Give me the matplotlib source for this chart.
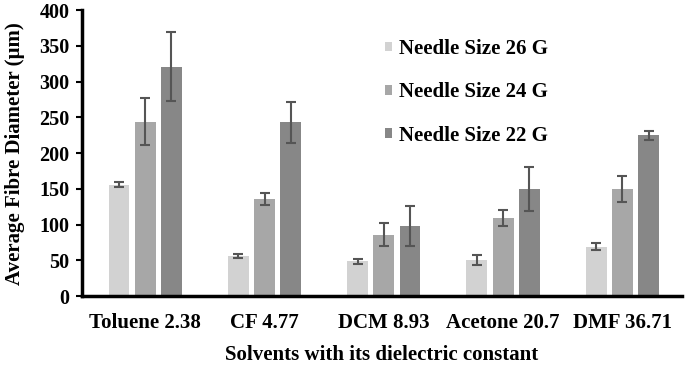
import matplotlib
matplotlib.use("Agg")
import matplotlib.pyplot as plt
import numpy as np

categories = ["Toluene 2.38", "CF 4.77", "DCM 8.93", "Acetone 20.7", "DMF 36.71"]
series = ["Needle Size 26 G", "Needle Size 24 G", "Needle Size 22 G"]
means_26 = [156, 56, 49, 50, 69]
means_24 = [244, 136, 86, 109, 150]
means_22 = [321, 243, 98, 150, 225]
err_26 = [3, 3, 3.5, 7, 5]
err_24 = [33, 8, 16, 11, 18]
err_22 = [48, 29, 28, 31, 6]
colors = ["#d2d2d2", "#a7a7a7", "#878787"]

plt.rcParams['font.family'] = ['Liberation Serif', 'DejaVu Serif']
plt.rcParams['font.weight'] = 'bold'

fig = plt.figure(figsize=(6.85, 3.66), dpi=100)
ax = fig.add_axes([0.1197, 0.191, 0.876, 0.781])

x = np.arange(len(categories))
w = 0.175
gap = 0.045
offsets = [-(w + gap), 0, (w + gap)]
all_means = [means_26, means_24, means_22]
all_errs = [err_26, err_24, err_22]
for i in range(3):
    ax.bar(x + offsets[i], all_means[i], width=w, color=colors[i], label=series[i],
           yerr=all_errs[i], capsize=3.5,
           error_kw=dict(ecolor="#555555", elinewidth=1.5, capthick=1.5), zorder=2)

ax.set_xlim(-0.53, len(categories) - 0.5)
ax.set_ylim(0, 400)
ax.set_yticks(np.arange(0, 401, 50))
ax.set_xticks(x)
ax.set_xticklabels(categories, fontsize=15, fontweight='bold')
for lab in ax.get_yticklabels():
    lab.set_fontsize(14.5)
    lab.set_fontweight('bold')
ax.tick_params(axis='x', length=0, pad=12)
ax.tick_params(axis='y', length=4, width=1.5, pad=5)

for s in ['top', 'right']:
    ax.spines[s].set_visible(False)
ax.spines['left'].set_linewidth(2.5)
ax.spines['bottom'].set_linewidth(2.5)

ax.set_ylabel("Average Fibre Diameter (µm)", fontsize=15, fontweight='bold', labelpad=10)
ax.set_xlabel("Solvents with its dielectric constant", fontsize=15, fontweight='bold', labelpad=9)

leg = ax.legend(loc='upper left', bbox_to_anchor=(0.473, 0.965), frameon=False,
                handlelength=0.35, handleheight=0.35, handletextpad=0.35,
                labelspacing=1.12, prop={'size': 15, 'weight': 'bold'})

fig.savefig("out.png", dpi=100)
